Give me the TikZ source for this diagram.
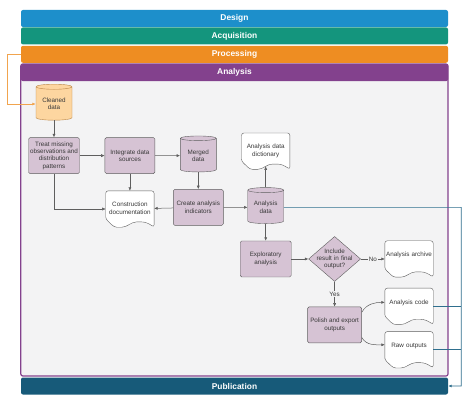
\documentclass[tikz,border=0pt]{standalone}
\usepackage{fontspec}
\setmainfont{Liberation Sans}
\usetikzlibrary{arrows.meta,calc,positioning,shapes.geometric}
\definecolor{designblue}{HTML}{1D8FCB}
\definecolor{acqgreen}{HTML}{14957D}
\definecolor{procorange}{HTML}{EE8D22}
\definecolor{anapurple}{HTML}{83418D}
\definecolor{pubblue}{HTML}{175A79}
\definecolor{boxgray}{HTML}{F3F3F4}
\definecolor{stepfill}{HTML}{D6C3D4}
\definecolor{cleanfill}{HTML}{FDD6A0}
\definecolor{cleanline}{HTML}{B98545}
\definecolor{linkgray}{HTML}{5E5E5E}
\definecolor{railblue}{HTML}{2F6F8E}
\pgfdeclarelayer{bands}
\pgfdeclarelayer{docs}
\pgfsetlayers{bands,docs,main}
\tikzset{
	band/.style={fill=#1, rounded corners=2pt, minimum width=427pt, minimum height=17pt,
		inner sep=0pt, text=white, font=\fontsize{8.4}{10}\selectfont\bfseries},
	flowtext/.style={font=\fontsize{6.3}{7.4}\selectfont, text=black!78},
	stepbox/.style={flowtext, draw=linkgray, fill=stepfill, rounded corners=1.5pt,
		minimum height=36pt, inner sep=1pt, align=center},
	store/.style={flowtext, cylinder, shape border rotate=90, aspect=0.2, draw=linkgray,
		fill=stepfill, minimum width=36pt, minimum height=36pt, inner sep=1pt, align=center},
	decide/.style={flowtext, diamond, draw=linkgray, fill=stepfill, minimum width=52pt,
		minimum height=45pt, inner sep=-5pt, text width=38pt, align=center},
	doc/.style={flowtext, minimum width=48pt, minimum height=36pt, text width=46.5pt,
		inner sep=0.75pt, align=center, text depth=9pt,
		append after command={\pgfextra{\let\fixname\tikzlastnode
			\begin{pgfonlayer}{docs}
			\draw[draw=linkgray, fill=white, rounded corners=2.5pt]
				($(\fixname.south west)+(0,8pt)$) -- (\fixname.north west) -- (\fixname.north east)
				-- (\fixname.south east)
				to[out=145,in=0] ($(\fixname.south west)!0.69!(\fixname.south east)+(0,5.3pt)$)
				to[out=180,in=0] ($(\fixname.south west)!0.28!(\fixname.south east)$)
				to[out=180,in=-40] ($(\fixname.south west)+(0,8pt)$) -- cycle;
			\end{pgfonlayer}
			\coordinate (\fixname_wave) at ($(\fixname.south)+(0,3pt)$);
		}}},
	link/.style={draw=linkgray, line width=0.5pt, -{Latex[length=3.5pt,width=3pt]}},
	railline/.style={draw=railblue, line width=0.7pt, -{Latex[length=3.5pt,width=3pt]}},
	feed/.style={draw=procorange!80, line width=0.7pt, -{Latex[length=3.5pt,width=3pt]}},
	tag/.style={flowtext, fill=boxgray, inner sep=1pt}
}

\begin{document}
\begin{tikzpicture}[x=1pt,y=-1pt]
  \useasboundingbox (0,0) rectangle (474,404);
  % stage bands
  \node[band=designblue] (design) at (234.5,18.5) {Design};
  \node[band=acqgreen, below=0pt of design] (acq) {Acquisition};
  \node[band=procorange, below=1pt of acq] (proc) {Processing};
  \node[band=anapurple, below=1pt of proc] (ana) {Analysis};
  \node[band=pubblue] (pub) at (234.5,386) {Publication};
  \begin{pgfonlayer}{bands}
    \draw[draw=anapurple, line width=1.2pt, fill=boxgray, rounded corners=2pt]
      (ana.north west) rectangle (448,376);
  \end{pgfonlayer}

  % analysis steps
  \node[store, fill=cleanfill, draw=cleanline] (cleaned) at (54,104) {Cleaned\\data};
  \node[stepbox, minimum width=51pt, below=17pt of cleaned] (treat)
    {Treat missing\\observations and\\distribution\\patterns};
  \node[stepbox, minimum width=50pt, right=25pt of treat] (integ) {Integrate data\\sources};
  \node[store, right=25pt of integ] (merged) {Merged\\data};
  \node[doc, below=17pt of integ] (constr) {Construction\\documentation};
  \node[stepbox, minimum width=50pt, below=17pt of merged] (create) {Create analysis\\indicators};
  \node[store, right=24pt of create] (adata) {Analysis\\data};
  \node[doc, above=18pt of adata] (dict) {Analysis data\\dictionary};
  \node[stepbox, minimum width=51pt, below=17pt of adata] (explor) {Exploratory\\analysis};
  \node[decide, right=17pt of explor] (choice) {Include\\result in final\\output?};
  \node[doc, right=24pt of choice] (archive) {Analysis archive};
  \node[stepbox, minimum width=54pt, below=25pt of choice] (polish) {Polish and export\\outputs};
  \node[doc, below=11pt of archive] (code) {Analysis code};
  \node[doc, below=7pt of code] (raw) {Raw outputs};
  \coordinate[right=13pt of pub.east] (rail);

  % connectors
  \draw[feed] (proc.west) -- ++(-13,0) |- (cleaned);
  \draw[link] (cleaned) -- (treat);
  \draw[link] (treat) -- (integ);
  \draw[link] (integ) -- (merged);
  \draw[link] (integ) -- (constr);
  \draw[link] (treat) |- (constr);
  \draw[link] (merged) -- (create);
  \draw[link] (create) -- (constr);
  \draw[link] (create) -- (adata);
  \draw[link] (adata) -- (dict_wave);
  \draw[link] (adata) -- (explor);
  \draw[link] (explor) -- (choice);
  \draw[link] (choice) -- node[tag] {No} (archive);
  \draw[link] (choice) -- node[tag] {Yes} (polish);
  \draw[link] (polish.25) to[out=60,in=180] ([yshift=4pt]code.west);
  \draw[link] (polish.-25) to[out=-60,in=180] ([yshift=5pt]raw.west);
  \draw[railline] (adata) -- (adata -| rail) -- (rail) -- (pub);
  \draw[railline,-] (code) -- (code -| rail);
  \draw[railline,-] (raw) -- (raw -| rail);
\end{tikzpicture}
\end{document}
